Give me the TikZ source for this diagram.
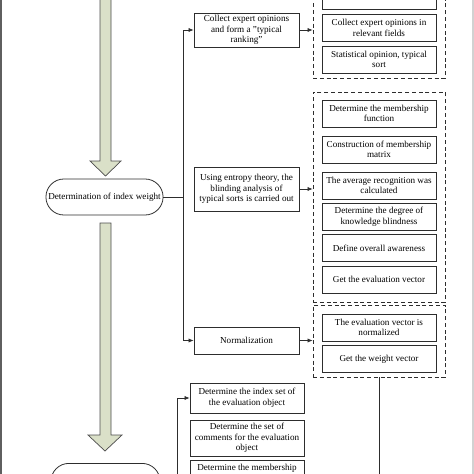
\documentclass[tikz,border=0pt]{standalone}
\usepackage{fontspec}
\setmainfont{Liberation Serif}
\usetikzlibrary{arrows.meta,positioning,shapes.misc}
\definecolor{ink}{RGB}{45,45,45}
\definecolor{sage}{RGB}{218,224,200}
\definecolor{rim}{RGB}{95,95,95}
\tikzset{
  >={Latex[length=2mm,width=1.7mm]},
  stepbox/.style={draw=ink,fill=white,line width=0.9pt,minimum width=#1,
    minimum height=10.8mm,align=center,inner sep=1pt,
    font=\fontsize{10.4}{12}\selectfont},
  stepbox/.default=45.6mm,
  midbox/.style={stepbox=42mm},
  group/.style={draw=ink,line width=0.9pt,dash pattern=on 1.6mm off 1.1mm,
    minimum width=52.8mm},
  pill/.style={rounded rectangle,draw=ink,fill=white,line width=0.9pt,
    minimum width=#1,minimum height=14.4mm,font=\fontsize{10.4}{12}\selectfont},
  flow/.style={->,line width=0.8pt,draw=ink},
  link/.style={line width=0.8pt,draw=ink},
  bigarrow/.style={fill=sage,draw=ink!85,line width=0.8pt},
}
\newcommand{\comma}{,}

\begin{document}
\begin{tikzpicture}[x=0.4mm,y=-0.4mm]
  \clip (0,0) rectangle (474,474);
  % edges of the cut-out
  \fill[rim] (0,0) rectangle (2,474);
  \fill[gray!35] (472,0) rectangle (474,474);

  % main flow
  \draw[bigarrow] (100,-5) -- (100,161) -- (90,161) -- (105.5,176) -- (121,161) -- (111,161) -- (111,-5);
  \node[pill=49.2mm] (weight) at (104.5,197) {Determination of index weight};
  \draw[bigarrow] (100,223) -- (100,435) -- (88,435) -- (105,451) -- (122,435) -- (111,435) -- (111,223) -- cycle;
  \node[pill=46mm,anchor=north] (fuzzy) at (105.5,463) {};

  % methods
  \node[midbox,minimum height=13.6mm] (collect) at (246.5,30) {Collect expert opinions\\and form a "typical\\ranking"};
  \node[midbox,minimum height=17.6mm] (entropy) at (246.5,189) {Using entropy theory, the\\blinding analysis of\\typical sorts is carried out};
  \node[midbox] (normal) at (246.5,340.5) {Normalization};

  % dashed groups
  \node[group,minimum height=47.2mm] (g1) at (379,19) {};
  \node[group,minimum height=84mm] (g2) at (379,197) {};
  \node[group,minimum height=28.8mm] (g3) at (379,341) {};

  \node[stepbox] (b0) at (379,-4.5) {};
  \foreach \y/\t [count=\i] in {
    28/Collect expert opinions in\\relevant fields,
    59.5/Statistical opinion\comma{} typical\\sort,
    113.5/Determine the membership\\function,
    149.5/Construction of membership\\matrix,
    185.5/The average recognition was\\calculated,
    216.5/Determine the degree of\\knowledge blindness,
    248/Define overall awareness,
    279.5/Get the evaluation vector,
    327.5/The evaluation vector is\\normalized,
    359/Get the weight vector}
  {
    \node[stepbox] (b\i) at (379,\y) {\t};
  }

  % evaluation steps
  \node[stepbox,minimum height=12mm] (index) at (247,398) {Determine the index set of\\the evaluation object};
  \node[stepbox,minimum height=14.4mm] (comments) at (247,438) {Determine the set of\\comments for the evaluation\\object};
  \node[stepbox,anchor=north,minimum height=12mm] (member) at (247,460) {};
  \node[font=\fontsize{10.4}{12}\selectfont] (membertxt) at ([yshift=-3.2mm]member.north) {Determine the membership};

  % connectors
  \coordinate (spine) at (183,0);
  \draw[link] (weight.east) -- (weight.east -| spine);
  \draw[flow] (weight.east -| spine) |- (collect.west);
  \draw[flow] (weight.east -| spine) |- (normal.west);
  \draw[flow] (collect.east) -- (collect.east -| g1.west);
  \draw[flow] (entropy.east) -- (entropy.east -| g2.west);
  \draw[flow] (normal.east) -- (normal.east -| g3.west);
  \coordinate (down) at (379,490);
  \draw[link] (g3.south) -- (down);
  \coordinate (feed) at (177,490);
  \draw[flow] (feed) |- (index.west);
\end{tikzpicture}
\end{document}
